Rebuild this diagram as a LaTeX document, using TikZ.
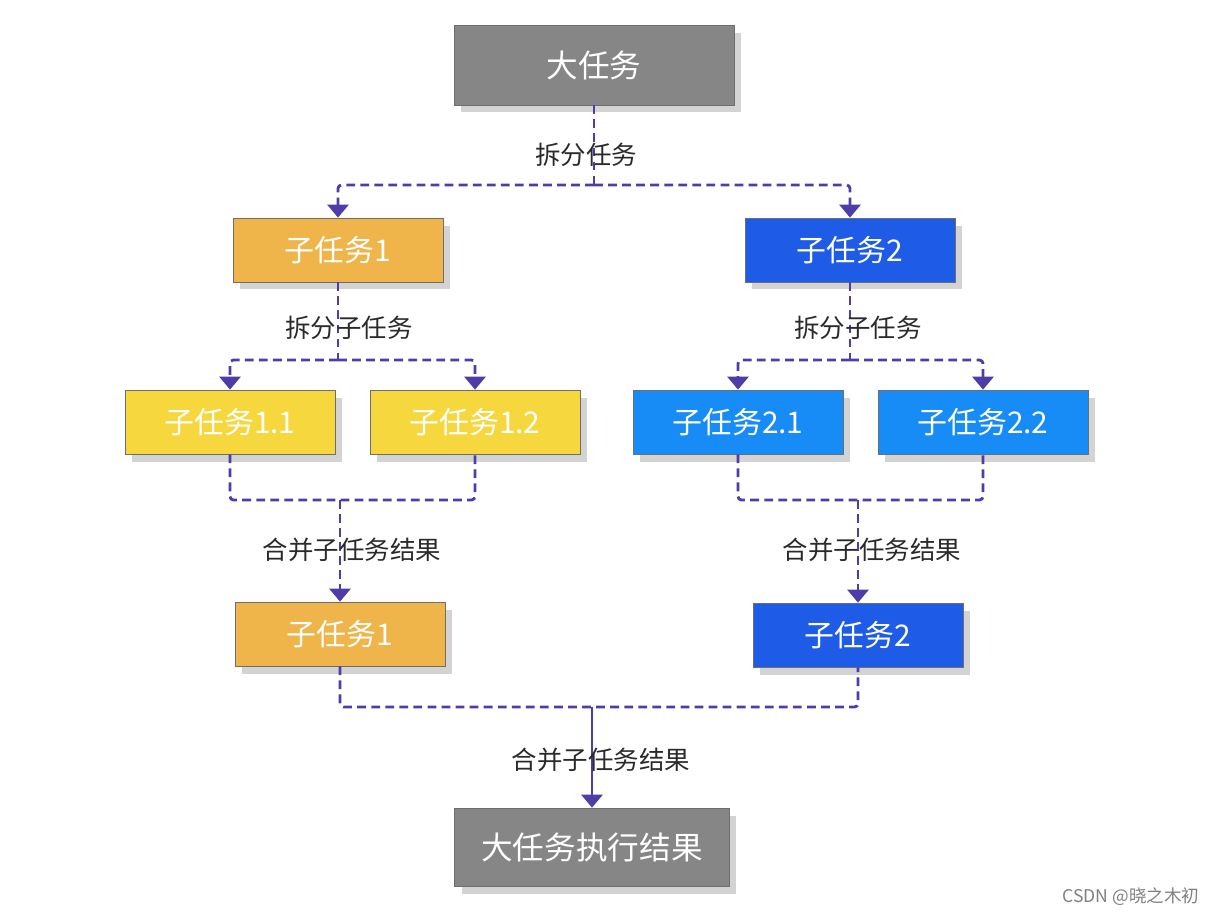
\documentclass[tikz,border=0pt]{standalone}
\usepackage{fontspec}
\setmainfont{Noto Sans CJK SC}
\usetikzlibrary{arrows.meta,positioning,shadows}
\definecolor{tkgrey}{HTML}{868686}
\definecolor{tkedge}{HTML}{6E6E6E}
\definecolor{tkorange}{HTML}{EFB54A}
\definecolor{tkyellow}{HTML}{F6D73E}
\definecolor{tkdblue}{HTML}{1E5BE6}
\definecolor{tklblue}{HTML}{178BF6}
\definecolor{tkline}{HTML}{4E3DA9}
\definecolor{tktext}{HTML}{2A2A2A}
\begin{document}
\begin{tikzpicture}[x=0.02cm, y=-0.02cm,
  box/.style={draw=tkedge, thin, fill=tkgrey, text=white,
    minimum width=4.2cm, minimum height=1.28cm, inner sep=0pt,
    font=\fontsize{17}{20}\selectfont,
    drop shadow={shadow xshift=1.4mm, shadow yshift=-1.5mm, opacity=0.35}},
  bigbox/.style={box, minimum width=5.6cm, minimum height=1.6cm,
    font=\fontsize{18}{21}\selectfont},
  orbox/.style={box, fill=tkorange},
  yebox/.style={box, fill=tkyellow},
  dbbox/.style={box, fill=tkdblue},
  lbbox/.style={box, fill=tklblue},
  link/.style={tkline, line width=1.6pt, dash pattern=on 5pt off 3pt,
    rounded corners=2pt},
  arr/.style={-{Triangle[length=2.6mm, width=4.2mm]}},
  lab/.style={font=\fontsize{14.5}{17}\selectfont, text=tktext}]
\useasboundingbox (0,0) rectangle (1212,916);
% boxes
\node[bigbox] (big) at (594,65) {大任务};
\node[orbox] (sub1) at (338,250) {子任务1};
\node[dbbox] (sub2) at (850,250) {子任务2};
\node[yebox] (t11) at (230,422) {子任务1.1};
\node[yebox] (t12) at (475,422) {子任务1.2};
\node[lbbox] (t21) at (738,422) {子任务2.1};
\node[lbbox] (t22) at (983,422) {子任务2.2};
\node[orbox] (res1) at (340,634) {子任务1};
\node[dbbox] (res2) at (858,635) {子任务2};
\node[bigbox, minimum width=5.5cm, minimum height=1.56cm] (final) at (592,847) {大任务执行结果};
% branch points
\coordinate (s0) at (big.south |- 0,185);
\coordinate (s1) at (sub1.south |- 0,360);
\coordinate (s2) at (sub2.south |- 0,360);
\coordinate (m1) at (res1.north |- 0,500);
\coordinate (m2) at (res2.north |- 0,500);
\coordinate (m3) at (final.north |- 0,707);
% split
\draw[link] (big.south) -- (s0);
\draw[link, arr] (s0) -| (sub1.north);
\draw[link, arr] (s0) -| (sub2.north);
\draw[link] (sub1.south) -- (s1);
\draw[link, arr] (s1) -| (t11.north);
\draw[link, arr] (s1) -| (t12.north);
\draw[link] (sub2.south) -- (s2);
\draw[link, arr] (s2) -| (t21.north);
\draw[link, arr] (s2) -| (t22.north);
% merge
\draw[link] (t11.south) |- (m1) -| (t12.south);
\draw[link, arr] (m1) -- (res1.north);
\draw[link] (t21.south) |- (m2) -| (t22.south);
\draw[link, arr] (m2) -- (res2.north);
\draw[link] (res1.south) |- (m3) -| (res2.south);
\draw[tkline, line width=1.6pt, arr] (m3) -- (final.north);
% labels
\node[lab] (l0) at (586,155) {拆分任务};
\node[lab] (l1) at (349,328) {拆分子任务};
\node[lab] (l2) at (858,328) {拆分子任务};
\node[lab] (l3) at (352,550) {合并子任务结果};
\node[lab] (l4) at (872,550) {合并子任务结果};
\node[lab] (l5) at (601,760) {合并子任务结果};
\node[font=\fontsize{10}{12}\selectfont, text=gray] (mark) at (1131,897) {CSDN @晓之木初};
\end{tikzpicture}
\end{document}
